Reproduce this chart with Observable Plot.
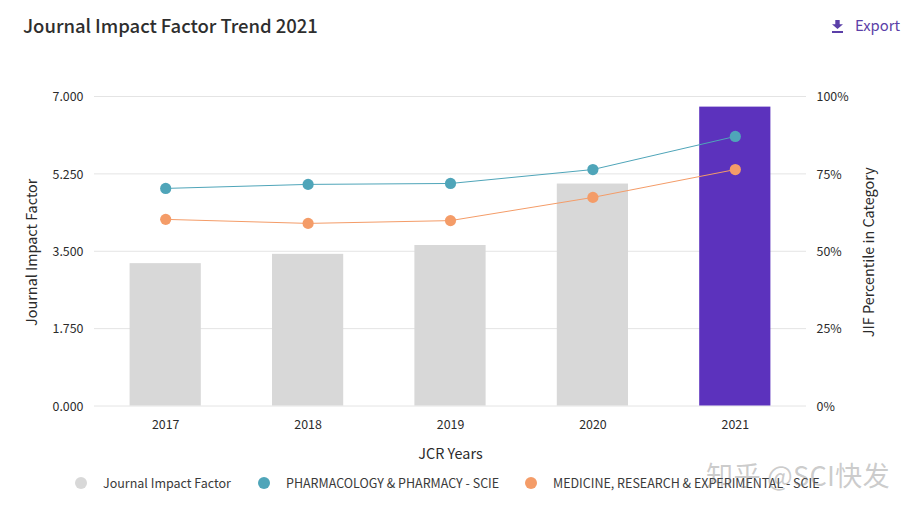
<!DOCTYPE html>
<html><head><meta charset="utf-8">
<script src="https://cdn.jsdelivr.net/npm/d3@7"></script>
<script src="https://cdn.jsdelivr.net/npm/@observablehq/plot@0.6"></script>
<style>
html,body{margin:0;padding:0;background:#fff;}
body{width:914px;height:512px;position:relative;overflow:hidden;font-family:"Noto Sans CJK SC","Noto Sans",sans-serif;color:#2b2b2b;}
#header{height:56px;position:relative;}
#title{position:absolute;left:23px;top:11px;font-size:18.5px;font-weight:500;letter-spacing:-.04px;line-height:28px;color:#2e2e2e;}
#export{position:absolute;left:855px;top:13px;font-size:14.8px;line-height:24px;color:#5b3fa8;}
#icon{position:absolute;left:832px;top:20px;width:11px;height:12px;background:#5b3fa8;clip-path:polygon(30% 0,70% 0,70% 35%,100% 35%,50% 75%,0 35%,30% 35%);}
#iconbar{position:absolute;left:832px;top:31px;width:11px;height:1.5px;background:#5b3fa8;}
#chart svg{display:block;}
#legend{position:relative;height:46px;font-size:12.5px;color:#3a3a3a;}
#legend .dot{position:absolute;top:11px;width:12px;height:12px;border-radius:50%;}
#legend .lab{position:absolute;top:7px;line-height:20px;white-space:nowrap;}
#mark{position:absolute;left:706px;top:456px;font-size:27.2px;line-height:36px;color:rgba(120,120,120,.38);letter-spacing:.2px;white-space:nowrap;}
</style></head>
<body>
<div id="header">
  <div id="title">Journal Impact Factor Trend 2021</div>
  <div id="icon"></div><div id="iconbar"></div>
  <div id="export">Export</div>
</div>
<div id="chart"></div>
<div id="legend"></div>
<div id="mark">知乎 @SCI快发</div>
<script>
const years = ["2017","2018","2019","2020","2021"];
const jif = [3.22,3.43,3.63,5.02,6.76];
const pharmacology = [70.3,71.6,71.9,76.4,87.1];
const medicine = [60.3,59.0,59.9,67.4,76.4];
const leftTicks = [0,1.75,3.5,5.25,7];
const rightTicks = [0,25,50,75,100];
const legendNames = ["Journal Impact Factor","PHARMACOLOGY & PHARMACY - SCIE","MEDICINE, RESEARCH & EXPERIMENTAL - SCIE"];
const grey="#d8d8d8", purple="#5c32bd", teal="#4fa5b9", orange="#f49c68";
const legendColors=[grey,teal,orange], dotX=[75,258,525], labX=[103,286,553];

const toLeft = p => p/100*7;
const bars = years.map((y,i)=>({y,v:jif[i]}));
const series = (vals)=>years.map((y,i)=>({y,v:toLeft(vals[i])}));
const titleStyle = {fontSize:14.4,fill:"#2b2b2b",textAnchor:"middle"};

const plot = Plot.plot({
  width:914,height:410,marginTop:40,marginBottom:60.5,marginLeft:94,marginRight:108,
  style:{fontFamily:'"Noto Sans CJK SC","Noto Sans",sans-serif',fontSize:"12.4px",color:"#2b2b2b",background:"#fff"},
  x:{type:"band",domain:years,paddingInner:0.5,paddingOuter:0.25,round:false,label:null},
  y:{domain:[0,7],label:null},
  marks:[
    Plot.ruleY(leftTicks,{stroke:"#e4e4e4",strokeWidth:1}),
    Plot.barY(bars,{x:"y",y:"v",fill:d=>d.y==="2021"?purple:grey}),
    Plot.axisX({tickSize:0,tickPadding:14,label:null}),
    Plot.axisY({ticks:leftTicks,tickSize:0,tickPadding:11,dy:0.7,tickFormat:d3.format(".3f"),label:null}),
    Plot.axisY({anchor:"right",ticks:leftTicks,tickSize:0,tickPadding:10,dy:0.7,tickFormat:(d)=>rightTicks[leftTicks.indexOf(d)]+"%",label:null}),
    Plot.text(["JCR Years"],{frameAnchor:"bottom",dy:53,...titleStyle}),
    Plot.text(["Journal Impact Factor"],{frameAnchor:"left",rotate:-90,dx:-62,dy:1,...titleStyle}),
    Plot.text(["JIF Percentile in Category"],{frameAnchor:"right",rotate:-90,dx:63,dy:1,...titleStyle}),
    Plot.line(series(pharmacology),{x:"y",y:"v",stroke:teal,strokeWidth:1}),
    Plot.line(series(medicine),{x:"y",y:"v",stroke:orange,strokeWidth:1}),
    Plot.dot(series(pharmacology),{x:"y",y:"v",fill:teal,r:5.6}),
    Plot.dot(series(medicine),{x:"y",y:"v",fill:orange,r:5.6})
  ]
});
document.getElementById("chart").appendChild(plot);
const leg=document.getElementById("legend");
legendNames.forEach((n,i)=>{
  const d=document.createElement("div");d.className="dot";d.style.left=dotX[i]+"px";d.style.background=legendColors[i];leg.appendChild(d);
  const t=document.createElement("div");t.className="lab";t.style.left=labX[i]+"px";t.textContent=n;leg.appendChild(t);
});
</script>
</body></html>
